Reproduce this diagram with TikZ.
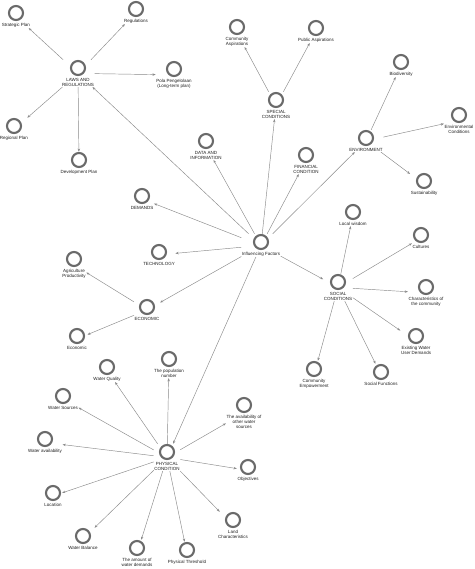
\documentclass[tikz,border=0pt]{standalone}
\usepackage{fontspec}
\setmainfont{Liberation Sans}
\usetikzlibrary{fit,arrows.meta}
\definecolor{ringgray}{HTML}{6A6A6A}
\definecolor{edgegray}{HTML}{8A8A8A}
\tikzset{
  ring/.style={circle,draw=ringgray,line width=2.1pt,minimum size=14pt,inner sep=0pt,fill=white},
  lbl/.style={anchor=north,inner sep=0.3pt,align=center,font=\fontsize{4.5}{5}\selectfont,text=black!88},
  cbox/.style={inner sep=0pt},
  conn/.style={draw=edgegray,line width=0.45pt,-{Stealth[length=3.2pt,width=2.4pt]}}
}
\newcommand\conceptnode[4]{%
  \node[ring] (#1c) at (#2,#3) {};
  \node[lbl] (#1l) at ([yshift=-1.6pt]#1c.south) {#4};
  \node[cbox,fit=(#1c)(#1l)] (#1) {};
}
\begin{document}
\begin{tikzpicture}[x=1pt,y=-1pt]
\useasboundingbox[fill=white] (0,0) rectangle (474,569);
% concepts
\conceptnode{strat}{16}{13}{Strategic Plan}
\conceptnode{regs}{136}{9}{Regulations}
\conceptnode{laws}{78}{68}{LAWS AND\\REGULATIONS}
\conceptnode{pola}{174}{69}{Pola Pengelolaan\\(Long-term plan)}
\conceptnode{regional}{14}{126}{Regional Plan}
\conceptnode{devplan}{79}{160}{Development Plan}
\conceptnode{commasp}{237}{27}{Community\\Aspirations}
\conceptnode{pubasp}{316}{28}{Public Aspirations}
\conceptnode{special}{276}{100}{SPECIAL\\CONDITIONS}
\conceptnode{data}{206}{141}{DATA AND\\INFORMATION}
\conceptnode{financial}{306}{155}{FINANCIAL\\CONDITION}
\conceptnode{biodiv}{401}{62}{Biodiversity}
\conceptnode{envcond}{459}{115}{Environmental\\Conditions}
\conceptnode{environment}{366}{138}{ENVIRONMENT}
\conceptnode{sustain}{424}{181}{Sustainability}
\conceptnode{demands}{142}{196}{DEMANDS}
\conceptnode{influencing}{261}{242}{Influencing Factors}
\conceptnode{technology}{159}{252}{TECHNOLOGY}
\conceptnode{agri}{74}{259}{Agriculture\\Productivity}
\conceptnode{econhub}{147}{307}{ECONOMIC}
\conceptnode{economic}{77}{336}{Economic}
\conceptnode{localw}{353}{212}{Local wisdom}
\conceptnode{cultures}{421}{235}{Cultures}
\conceptnode{social}{338}{282}{SOCIAL\\CONDITIONS}
\conceptnode{charac}{426}{287}{Characteristics of\\the community}
\conceptnode{existing}{416}{336}{Existing Water\\User Demands}
\conceptnode{commemp}{314}{369}{Community\\Empowerment}
\conceptnode{socfunc}{381}{372}{Social Functions}
\conceptnode{wquality}{107}{367}{Water Quality}
\conceptnode{popnum}{169}{359}{The population\\number}
\conceptnode{wsources}{63}{396}{Water Sources}
\conceptnode{wavail}{45}{439}{Water availability}
\conceptnode{physical}{167}{452}{PHYSICAL\\CONDITION}
\conceptnode{otherw}{244}{405}{The availability of\\other water\\sources}
\conceptnode{objectives}{248}{467}{Objectives}
\conceptnode{location}{53}{493}{Location}
\conceptnode{land}{233}{520}{Land\\Characteristics}
\conceptnode{wbalance}{83}{536}{Water Balance}
\conceptnode{amount}{137}{548}{The amount of\\water demands}
\conceptnode{threshold}{187}{550}{Physical Threshold}
% connectors
\foreach \t in {laws,special,environment,data,financial,demands,technology,econhub,social,physical}
  \draw[conn] (influencing) -- (\t);
\foreach \t in {strat,regs,pola,regional,devplan}
  \draw[conn] (laws) -- (\t);
\foreach \t in {commasp,pubasp}
  \draw[conn] (special) -- (\t);
\foreach \t in {biodiv,envcond,sustain}
  \draw[conn] (environment) -- (\t);
\foreach \t in {agri,economic}
  \draw[conn] (econhub) -- (\t);
\foreach \t in {localw,cultures,charac,existing,commemp,socfunc}
  \draw[conn] (social) -- (\t);
\foreach \t in {wquality,popnum,wsources,wavail,otherw,objectives,location,land,wbalance,amount,threshold}
  \draw[conn] (physical) -- (\t);
\end{tikzpicture}
\end{document}
